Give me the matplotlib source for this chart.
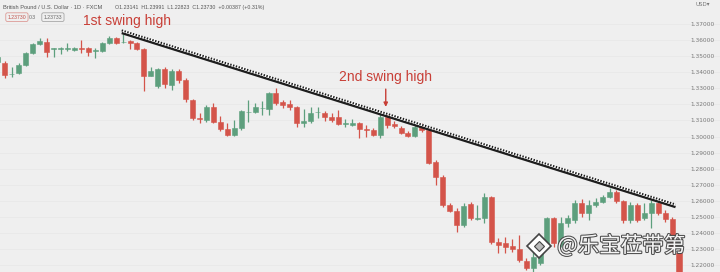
import matplotlib
matplotlib.use("Agg")
import matplotlib.pyplot as plt
import matplotlib.patheffects as pe
from matplotlib.transforms import offset_copy
import numpy as np

# ---------------- data (GBP/USD daily candles) ----------------
opens = [1.3464, 1.3457, 1.3386, 1.3395, 1.3445, 1.3520, 1.3576, 1.3588, 1.3545, 1.3543,
         1.3546, 1.3538, 1.3551, 1.3551, 1.3532, 1.3532, 1.3582, 1.3613, 1.3585, 1.3594,
         1.3582, 1.3545, 1.3376, 1.3314, 1.3420, 1.3320, 1.3407, 1.3352, 1.3227, 1.3115,
         1.3103, 1.3184, 1.3090, 1.3047, 1.3009, 1.3053, 1.3150, 1.3153, 1.3175, 1.3171,
         1.3271, 1.3215, 1.3202, 1.3184, 1.3084, 1.3097, 1.3150, 1.3146, 1.3121, 1.3121,
         1.3076, 1.3072, 1.3084, 1.3047, 1.3040, 1.3009, 1.3121, 1.3078, 1.3053, 1.3022,
         1.3003, 1.3059, 1.3040, 1.2841, 1.2748, 1.2574, 1.2536, 1.2449, 1.2580, 1.2487,
         1.2493, 1.2623, 1.2343, 1.2337, 1.2319, 1.2300, 1.2225, 1.2182, 1.2213, 1.2312,
         1.2493, 1.2325, 1.2462, 1.2480, 1.2586, 1.2524, 1.2574, 1.2592, 1.2623, 1.2655,
         1.2599, 1.2480, 1.2574, 1.2493, 1.2524, 1.2586, 1.2524, 1.2487, 1.2275]
highs = [1.3507, 1.3470, 1.3432, 1.3457, 1.3526, 1.3582, 1.3613, 1.3613, 1.3551, 1.3557,
         1.3582, 1.3557, 1.3600, 1.3557, 1.3551, 1.3588, 1.3625, 1.3619, 1.3638, 1.3600,
         1.3588, 1.3551, 1.3432, 1.3426, 1.3432, 1.3420, 1.3420, 1.3364, 1.3233, 1.3146,
         1.3196, 1.3208, 1.3128, 1.3084, 1.3103, 1.3165, 1.3227, 1.3208, 1.3221, 1.3277,
         1.3302, 1.3227, 1.3227, 1.3190, 1.3171, 1.3184, 1.3184, 1.3159, 1.3146, 1.3165,
         1.3109, 1.3109, 1.3090, 1.3072, 1.3053, 1.3146, 1.3146, 1.3097, 1.3065, 1.3034,
         1.3072, 1.3084, 1.3053, 1.2854, 1.2760, 1.2586, 1.2555, 1.2586, 1.2592, 1.2574,
         1.2648, 1.2630, 1.2368, 1.2375, 1.2362, 1.2387, 1.2244, 1.2281, 1.2319, 1.2499,
         1.2499, 1.2499, 1.2512, 1.2605, 1.2611, 1.2605, 1.2617, 1.2636, 1.2679, 1.2667,
         1.2605, 1.2592, 1.2586, 1.2586, 1.2605, 1.2592, 1.2543, 1.2499, 1.2293]
lows = [1.3451, 1.3364, 1.3370, 1.3389, 1.3439, 1.3514, 1.3570, 1.3495, 1.3495, 1.3514,
        1.3532, 1.3532, 1.3520, 1.3501, 1.3489, 1.3526, 1.3576, 1.3576, 1.3582, 1.3545,
        1.3538, 1.3283, 1.3376, 1.3302, 1.3302, 1.3289, 1.3333, 1.3215, 1.3103, 1.3084,
        1.3090, 1.3084, 1.3034, 1.3003, 1.3003, 1.3040, 1.3090, 1.3146, 1.3134, 1.3134,
        1.3196, 1.3177, 1.3165, 1.3059, 1.3059, 1.3084, 1.3115, 1.3097, 1.3090, 1.3072,
        1.3059, 1.3065, 1.2991, 1.2997, 1.3003, 1.2991, 1.3053, 1.3053, 1.3016, 1.2997,
        1.2997, 1.3028, 1.2829, 1.2698, 1.2561, 1.2530, 1.2406, 1.2437, 1.2480, 1.2480,
        1.2462, 1.2331, 1.2275, 1.2275, 1.2281, 1.2219, 1.2169, 1.2150, 1.2200, 1.2306,
        1.2312, 1.2312, 1.2437, 1.2462, 1.2499, 1.2480, 1.2561, 1.2586, 1.2617, 1.2586,
        1.2462, 1.2462, 1.2468, 1.2480, 1.2431, 1.2512, 1.2468, 1.2281, 1.2080]
closes = [1.3495, 1.3383, 1.3392, 1.3445, 1.3520, 1.3576, 1.3594, 1.3526, 1.3548, 1.3547,
          1.3549, 1.3551, 1.3545, 1.3526, 1.3538, 1.3582, 1.3613, 1.3582, 1.3588, 1.3582,
          1.3545, 1.3376, 1.3407, 1.3420, 1.3327, 1.3407, 1.3352, 1.3233, 1.3115, 1.3109,
          1.3184, 1.3090, 1.3047, 1.3009, 1.3053, 1.3159, 1.3155, 1.3184, 1.3179, 1.3271,
          1.3208, 1.3196, 1.3184, 1.3084, 1.3097, 1.3146, 1.3155, 1.3121, 1.3103, 1.3078,
          1.3080, 1.3084, 1.3047, 1.3040, 1.3009, 1.3121, 1.3072, 1.3065, 1.3022, 1.3003,
          1.3059, 1.3040, 1.2835, 1.2748, 1.2574, 1.2536, 1.2449, 1.2567, 1.2493, 1.2496,
          1.2623, 1.2343, 1.2325, 1.2312, 1.2300, 1.2232, 1.2182, 1.2250, 1.2306, 1.2493,
          1.2337, 1.2462, 1.2493, 1.2586, 1.2524, 1.2574, 1.2592, 1.2623, 1.2655, 1.2599,
          1.2480, 1.2574, 1.2480, 1.2524, 1.2586, 1.2524, 1.2487, 1.2306, 1.2100]

price_ticks = [1.22, 1.23, 1.24, 1.25, 1.26, 1.27, 1.28, 1.29, 1.30, 1.31,
               1.32, 1.33, 1.34, 1.35, 1.36, 1.37]

trend_x = [17.8, 97.5]          # candle index of trend-line ends
trend_y = [1.3644, 1.2561]      # price of trend-line ends

label1 = "1st swing high"
label1_pos = (18.6, 1.3719)
label2 = "2nd swing high"
label2_pos = (55.7, 1.3370)
arrow_x = 55.8
arrow_from, arrow_to = 1.3295, 1.3184

header = "British Pound / U.S. Dollar · 1D · FXCM"
ohlc_text = "O1.23141  H1.23991  L1.22823  C1.23730  +0.00387 (+0.31%)"
box1, box_mid, box2 = "1.23730", "0.3", "1.23733"
watermark = "@乐宝莅带第"

# ---------------- styling ----------------
BG = "#efefef"
RED = "#d4544a"
GREEN = "#5d9f7d"
TXT_RED = "#c83f37"

fig = plt.figure(figsize=(7.2, 2.72), dpi=100)
fig.patch.set_facecolor(BG)
ax = fig.add_axes([0, 0, 1, 1])
ax.set_facecolor(BG)

x = np.arange(len(opens))
for i in x:
    o, h, l, c = opens[i], highs[i], lows[i], closes[i]
    col = GREEN if c >= o else RED
    ax.vlines(i, l, h, color=col, lw=0.9, zorder=2)
    lo = min(o, c)
    hgt = max(abs(c - o), 0.0005)
    ax.bar(i, hgt, bottom=lo, width=0.72, color=col, edgecolor=col,
           linewidth=0.4, zorder=3)

ax.set_xlim(0.29, 103.9)
ax.set_ylim(1.2157, 1.38494)

# faint grid
for p in price_ticks:
    ax.axhline(p, color="#e8e8e8", lw=0.6, zorder=0)

ax.yaxis.tick_right()
ax.set_yticks(price_ticks)
ax.set_yticklabels([f"{p:.5f}" for p in price_ticks])
ax.tick_params(axis="y", length=0, pad=-21.6, labelsize=4.2, labelcolor="#7a7a7a")
for lab in ax.get_yticklabels():
    lab.set_horizontalalignment("left")
ax.set_xticks([])
for s in ax.spines.values():
    s.set_visible(False)

# trend line: solid black with dotted band above
ax.plot(trend_x, trend_y, color="#1e1e1e", lw=1.7, solid_capstyle="butt", zorder=5)
tr = offset_copy(ax.transData, fig=fig, x=0, y=1.9, units="points")
ax.plot(trend_x, trend_y, color="white", lw=1.8, transform=tr, zorder=5,
        solid_capstyle="butt")
ax.plot(trend_x, trend_y, color="#1e1e1e", lw=1.5, transform=tr, zorder=6,
        dashes=(0.7, 0.7))

# annotations
ax.text(*label1_pos, label1, color=TXT_RED, fontsize=10, ha="center", va="center",
        family="Liberation Sans", zorder=7)
ax.text(*label2_pos, label2, color=TXT_RED, fontsize=10, ha="center", va="center",
        family="Liberation Sans", zorder=7)
ax.annotate("", xy=(arrow_x, arrow_to), xytext=(arrow_x, arrow_from),
            arrowprops=dict(arrowstyle="-|>", color=TXT_RED, lw=1.0,
                            mutation_scale=6, shrinkA=0, shrinkB=0), zorder=7)

# header texts
ax.text(0.004, 0.974, header, transform=ax.transAxes, fontsize=4.1, color="#555555",
        ha="left", va="center", family="Liberation Sans")
ax.text(0.160, 0.974, ohlc_text, transform=ax.transAxes, fontsize=3.8, color="#555555",
        ha="left", va="center", family="Liberation Sans")
ax.text(0.0235, 0.937, box1, transform=ax.transAxes, fontsize=3.7, color="#c0504a",
        ha="center", va="center", family="Liberation Sans",
        bbox=dict(boxstyle="round,pad=0.35,rounding_size=0.3", fc=BG, ec="#d98a85", lw=0.5))
ax.text(0.0445, 0.937, box_mid, transform=ax.transAxes, fontsize=3.7, color="#666666",
        ha="center", va="center", family="Liberation Sans")
ax.text(0.0735, 0.937, box2, transform=ax.transAxes, fontsize=3.7, color="#666666",
        ha="center", va="center", family="Liberation Sans",
        bbox=dict(boxstyle="round,pad=0.35,rounding_size=0.3", fc=BG, ec="#999999", lw=0.5))
ax.text(0.9655, 0.982, "USD▾", transform=ax.transAxes, fontsize=4.0, color="#777777",
        ha="left", va="center", family="DejaVu Sans")

# watermark logo + text
ax.plot([0.748], [0.095], transform=ax.transAxes, marker="D", markersize=12,
        markerfacecolor="white", markeredgecolor="#444444", markeredgewidth=1.2,
        zorder=8, clip_on=False)
ax.plot([0.748], [0.095], transform=ax.transAxes, marker="D", markersize=5.5,
        markerfacecolor="#bbbbbb", markeredgecolor="#444444", markeredgewidth=0.8,
        zorder=9, clip_on=False)
ax.text(0.774, 0.095, watermark, transform=ax.transAxes, fontsize=15.5, color="white",
        ha="left", va="center", family=["Noto Sans CJK SC", "DejaVu Sans"], alpha=0.95,
        zorder=8, path_effects=[pe.withStroke(linewidth=1.5, foreground="#444444")])

fig.savefig("out.png", dpi=100, facecolor=BG)
